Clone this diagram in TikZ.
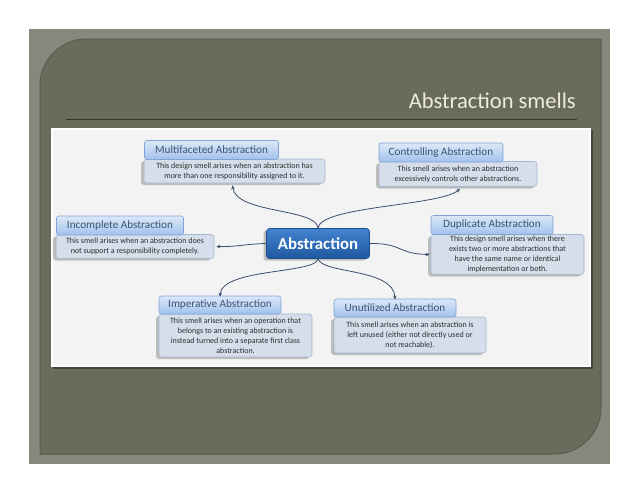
\documentclass[tikz,border=0pt]{standalone}
\usepackage{fontspec}
\setmainfont{Carlito}
\usetikzlibrary{shadows,arrows.meta}
\definecolor{outerg}{HTML}{85887A}
\definecolor{innerg}{HTML}{696B5D}
\definecolor{innerb}{HTML}{5A5C4F}
\definecolor{titlec}{HTML}{EEEBD8}
\definecolor{linec}{HTML}{35382F}
\definecolor{panelc}{HTML}{F3F3F3}
\definecolor{hdrt}{HTML}{DCE8F8}
\definecolor{hdrbot}{HTML}{A2C1EC}
\definecolor{hdrb}{HTML}{7FA3D6}
\definecolor{hdrtxt}{HTML}{3E5475}
\definecolor{descf}{HTML}{D5DEEA}
\definecolor{descb}{HTML}{A5B8D0}
\definecolor{desct}{HTML}{2E2E2E}
\definecolor{cent}{HTML}{4483D0}
\definecolor{cenb}{HTML}{1E58A0}
\definecolor{cenbd}{HTML}{1B4F8E}
\definecolor{connc}{HTML}{3B4F6F}
\tikzset{
  mysh/.style={drop shadow={shadow xshift=-3pt, shadow yshift=-2pt, opacity=0.22, fill=black}},
  hdr/.style={draw=hdrb, line width=0.6pt, rounded corners=2.5pt, top color=hdrt, bottom color=hdrbot,
    text=hdrtxt, font=\fontsize{11.2}{12}\selectfont, inner sep=0pt},
  descbox/.style={draw=descb, fill=descf, line width=0.6pt, rounded corners=3pt, text=desct,
    font=\fontsize{8}{9.9}\selectfont, align=center, inner sep=0pt, mysh},
  central/.style={draw=cenbd, line width=0.6pt, rounded corners=3pt, top color=cent, bottom color=cenb,
    text=white, font=\bfseries\fontsize{16.8}{18}\selectfont, inner sep=0pt, minimum width=103pt, minimum height=30pt, mysh},
  conn/.style={draw=connc, line width=0.8pt, -{Stealth[length=4pt,width=3.5pt]}}
}
\begin{document}
\begin{tikzpicture}[x=1pt,y=-1pt]
\useasboundingbox (0,0) rectangle (638,493);
\fill[white] (0,0) rectangle (638,493);
\fill[outerg] (29,29) rectangle (610,464);
\draw[innerb, fill=innerg, line width=1pt] (40,454) -- (40,85) .. controls (40,60) and (61,39) .. (86,39) -- (601,39) -- (601,408) .. controls (601,433) and (580,454) .. (555,454) -- cycle;
\node[anchor=base east, text=titlec, font=\fontsize{22.5}{26}\selectfont, inner sep=0pt] (title) at (576,108) {Abstraction smells};
\draw[linec, line width=1.2pt] (66,119.5) -- (577,119.5);
\fill[black, opacity=.35] (53,130) rectangle (593,369);
\draw[white, line width=2pt, fill=panelc] (52,129) rectangle (590,366);

% description boxes
\node[descbox, minimum width=181pt, minimum height=24pt] (md) at (234.5,171) {This design smell arises when an abstraction has\\more than one responsibility assigned to it.};
\node[descbox, minimum width=158pt, minimum height=25pt] (cd) at (458,174) {This smell arises when an abstraction\\excessively controls other abstractions.};
\node[descbox, minimum width=158pt, minimum height=24pt] (id) at (135,246.5) {This smell arises when an abstraction does\\not support a responsibility completely.};
\node[descbox, minimum width=153pt, minimum height=40pt] (dd) at (507.5,254.5) {This design smell arises when there\\exists two or more abstractions that\\have the same name or identical\\implementation or both.};
\node[descbox, minimum width=153pt, minimum height=43pt] (imd) at (235.5,335.5) {This smell arises when an operation that\\belongs to an existing abstraction is\\instead turned into a separate first class\\abstraction.};
\node[descbox, minimum width=152pt, minimum height=36pt] (ud) at (410,335) {This smell arises when an abstraction is\\left unused (either not directly used or\\not reachable).};

% header boxes
\node[hdr, minimum width=134pt, minimum height=19pt] (mh) at (211.5,150) {Multifaceted Abstraction};
\node[hdr, minimum width=124pt, minimum height=19pt] (ch) at (441,152.5) {Controlling Abstraction};
\node[hdr, minimum width=127pt, minimum height=19pt] (ih) at (120,225.5) {Incomplete Abstraction};
\node[hdr, minimum width=122pt, minimum height=19pt] (dh) at (492,225) {Duplicate Abstraction};
\node[hdr, minimum width=122pt, minimum height=18pt] (imh) at (220,305) {Imperative Abstraction};
\node[hdr, minimum width=122pt, minimum height=18pt] (uh) at (395,308) {Unutilized Abstraction};

% central
\node[central] (abs) at (318,243.5) {Abstraction};

% connectors
\draw[conn] (abs.north) .. controls (317,208) and (236,214) .. ([xshift=-2pt,yshift=-2pt]md.south);
\draw[conn] (abs.north) .. controls (320,206) and (440,206) .. ([xshift=2pt,yshift=-2pt]cd.south);
\draw[conn] (abs.west) .. controls (245,244) and (236,247) .. ([xshift=2pt]id.east);
\draw[conn] (abs.east) .. controls (402,243) and (398,254) .. ([xshift=-1pt]dd.west);
\draw[conn] (abs.south) .. controls (316,274) and (222,268) .. ([yshift=-1pt]imh.north);
\draw[conn] (abs.south) .. controls (322,274) and (394,268) .. ([yshift=-1pt]uh.north);
\end{tikzpicture}
\end{document}
